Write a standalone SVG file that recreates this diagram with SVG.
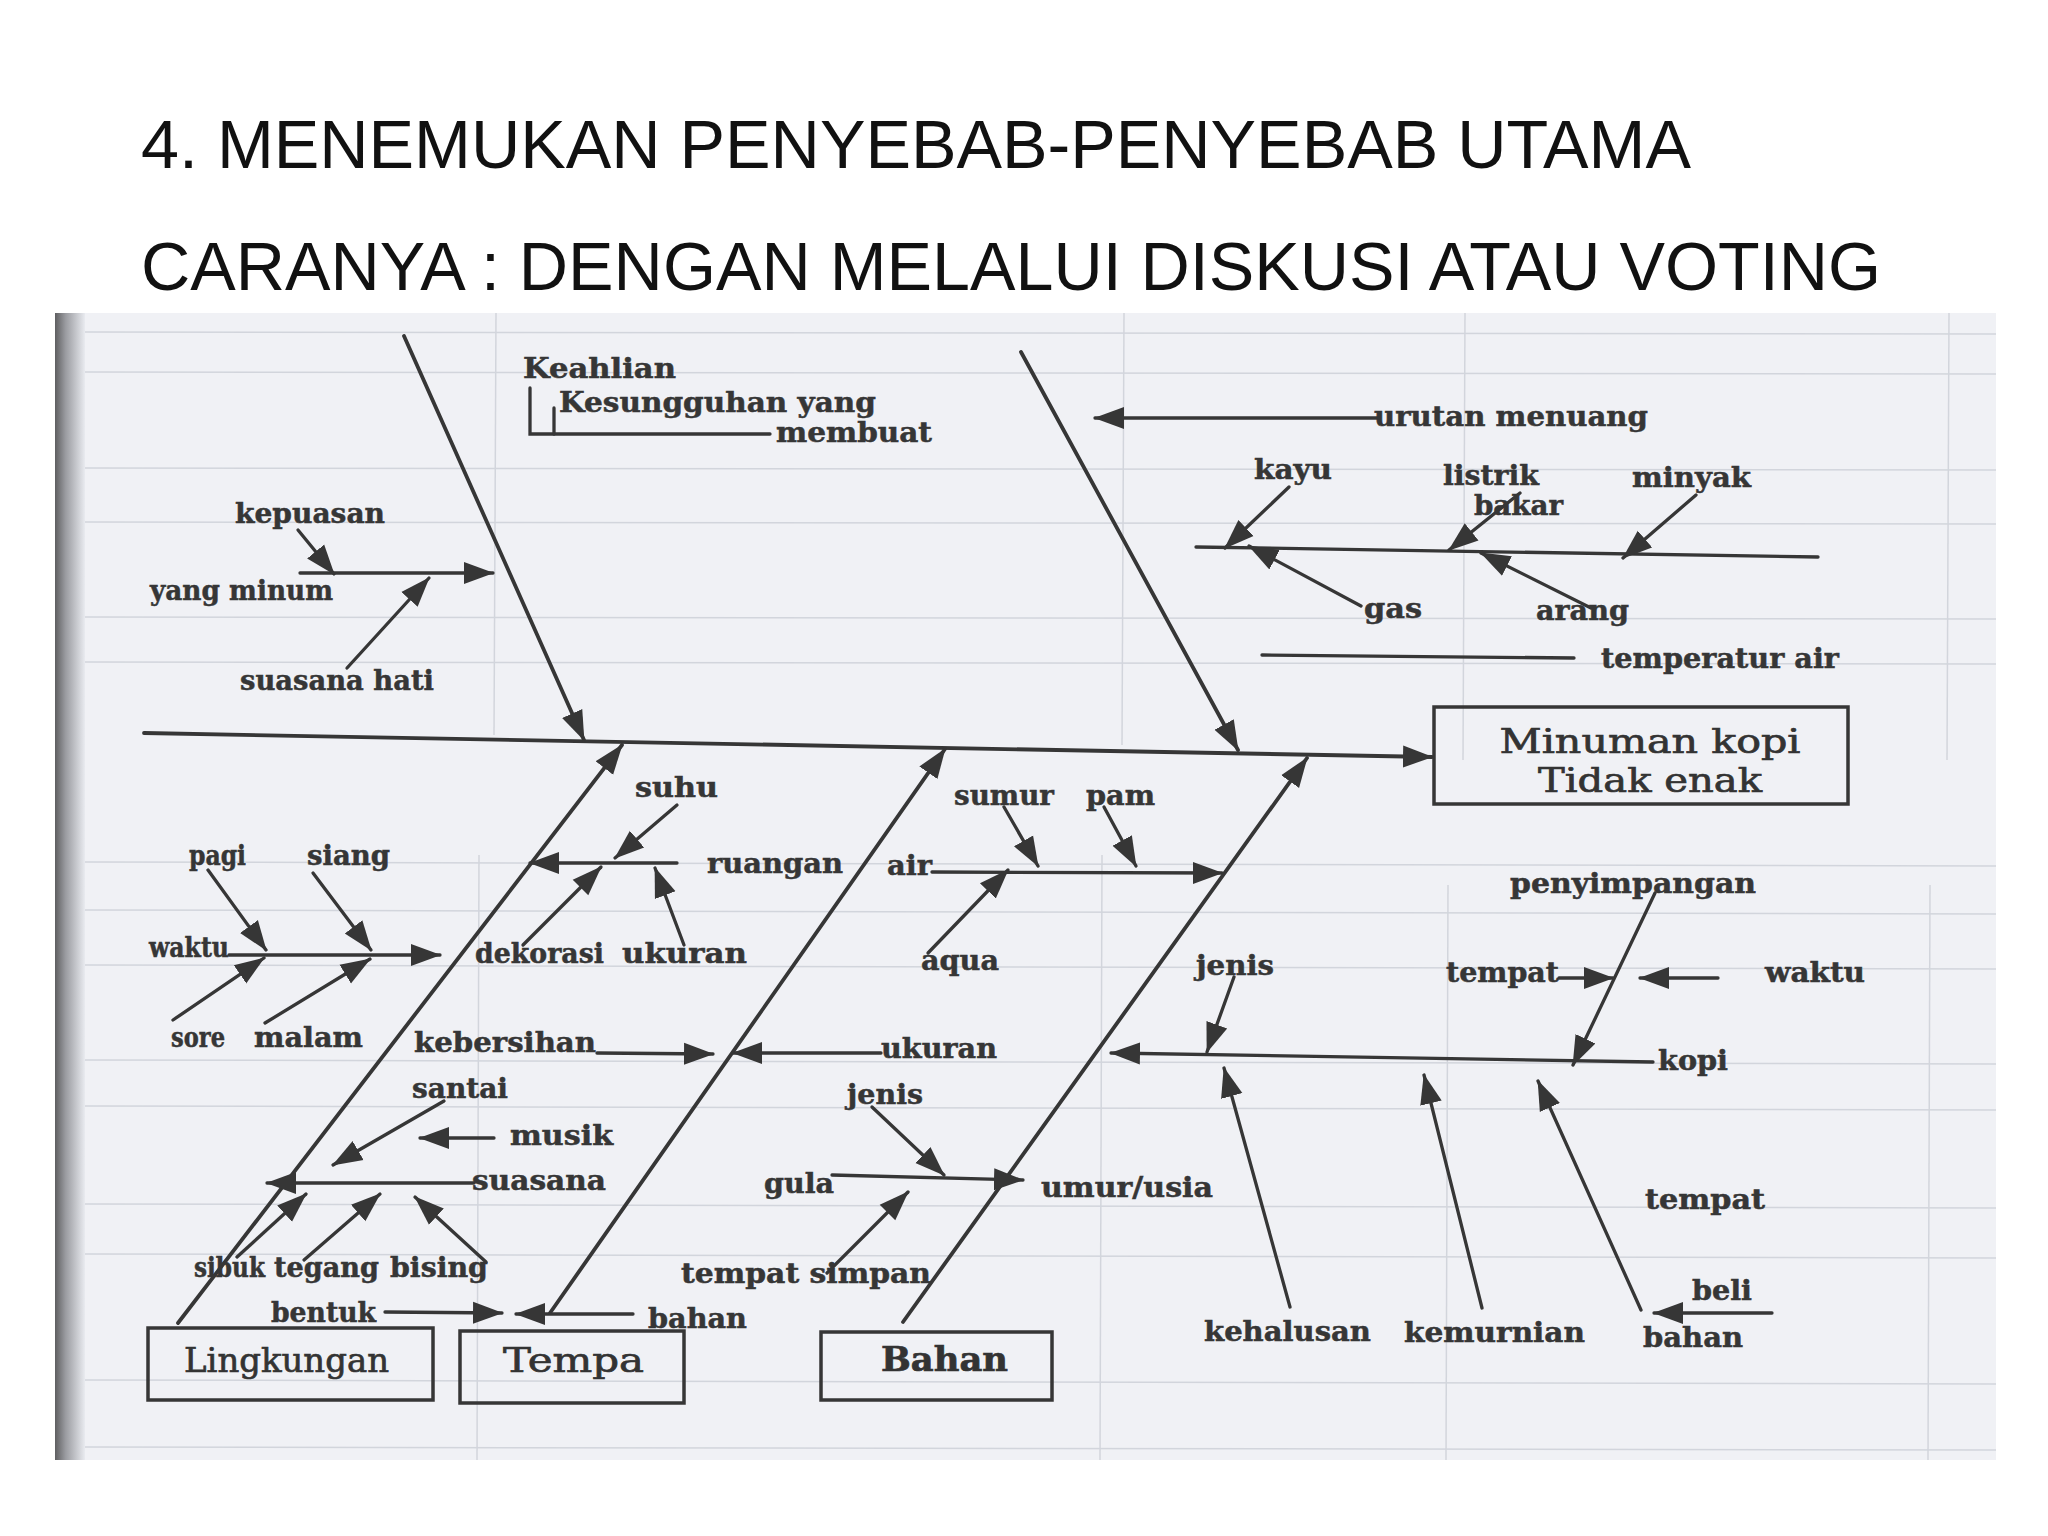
<svg xmlns="http://www.w3.org/2000/svg" width="2048" height="1536" viewBox="0 0 2048 1536">
  <defs>
    <marker id="ah" markerUnits="userSpaceOnUse" markerWidth="30" markerHeight="24" refX="29" refY="12" orient="auto">
      <path d="M0,1 L30,12 L0,23 Z" fill="#363636"/>
    </marker>
    <linearGradient id="edge" x1="0" y1="0" x2="1" y2="0">
      <stop offset="0" stop-color="#5e5e60"/>
      <stop offset="0.35" stop-color="#9a9ba0"/>
      <stop offset="1" stop-color="#e9ebf0"/>
    </linearGradient>
    <style>
      .title{font-family:"Liberation Sans",Arial,sans-serif;font-size:68px;fill:#111}
      .lbl{font-family:"DejaVu Serif","Liberation Serif",serif;font-weight:bold;font-size:27px;fill:#363636;stroke:#363636;stroke-width:0.5}
      .bt{font-family:"DejaVu Serif","Liberation Serif",serif;font-size:33px;fill:#333;stroke:#333;stroke-width:0.7}
      .box{fill:none;stroke:#363636;stroke-width:3.5}
      .ln{stroke:#363636;stroke-width:3.3;fill:none;stroke-linecap:round}
      .bone{stroke:#363636;stroke-width:3.8;fill:none;stroke-linecap:round}
      .ar{marker-end:url(#ah)}
      .grid{stroke:#d2d5dc;stroke-width:1.5;fill:none}
    </style>
  </defs>

  <rect x="0" y="0" width="2048" height="1536" fill="#ffffff"/>

  <g id="titles">
    <text class="title" x="141" y="168" textLength="1550" lengthAdjust="spacingAndGlyphs">4. MENEMUKAN PENYEBAB-PENYEBAB UTAMA</text>
    <text class="title" x="141" y="290" textLength="1740" lengthAdjust="spacingAndGlyphs">CARANYA : DENGAN MELALUI DISKUSI ATAU VOTING</text>
  </g>

  <g id="scan-background">
    <rect x="55" y="313" width="1941" height="1147" fill="#f0f1f5"/>
    <rect x="55" y="313" width="30" height="1147" fill="url(#edge)"/>
    <g class="grid">
      <line x1="85" y1="332" x2="1996" y2="334"/>
      <line x1="85" y1="372" x2="1996" y2="374"/>
      <line x1="85" y1="468" x2="1996" y2="470"/>
      <line x1="85" y1="522" x2="1996" y2="524"/>
      <line x1="85" y1="617" x2="1996" y2="619"/>
      <line x1="85" y1="662" x2="1996" y2="664"/>
      <line x1="85" y1="862" x2="1996" y2="866"/>
      <line x1="85" y1="910" x2="1996" y2="914"/>
      <line x1="85" y1="965" x2="1996" y2="969"/>
      <line x1="85" y1="1060" x2="1996" y2="1064"/>
      <line x1="85" y1="1106" x2="1996" y2="1110"/>
      <line x1="85" y1="1204" x2="1996" y2="1208"/>
      <line x1="85" y1="1254" x2="1996" y2="1258"/>
      <line x1="85" y1="1380" x2="1996" y2="1384"/>
      <line x1="85" y1="1447" x2="1996" y2="1450"/>
      <line x1="496" y1="313" x2="494" y2="735"/>
      <line x1="1124" y1="313" x2="1122" y2="745"/>
      <line x1="1465" y1="313" x2="1463" y2="760"/>
      <line x1="1949" y1="313" x2="1947" y2="760"/>
      <line x1="479" y1="855" x2="477" y2="1460"/>
      <line x1="1102" y1="855" x2="1100" y2="1460"/>
      <line x1="1448" y1="885" x2="1446" y2="1460"/>
      <line x1="1930" y1="885" x2="1928" y2="1460"/>
    </g>
  </g>

  <g id="connectors">
    <!-- main spine and bones -->
    <line class="bone ar" x1="144" y1="733" x2="1432" y2="757"/>
    <line class="bone ar" x1="404" y1="336" x2="584" y2="740"/>
    <line class="bone ar" x1="1021" y1="352" x2="1238" y2="750"/>
    <line class="bone ar" x1="178" y1="1323" x2="622" y2="745"/>
    <line class="bone ar" x1="550" y1="1313" x2="945" y2="749"/>
    <line class="bone ar" x1="903" y1="1322" x2="1307" y2="758"/>

    <!-- Keahlian bracket -->
    <polyline class="ln" points="530,388 530,434 770,434"/>
    <line class="ln" x1="554" y1="408" x2="554" y2="434"/>

    <!-- top-left sub-branches -->
    <line class="ln ar" x1="298" y1="530" x2="334" y2="574"/>
    <line class="ln ar" x1="300" y1="573" x2="493" y2="573"/>
    <line class="ln ar" x1="347" y1="668" x2="429" y2="578"/>

    <!-- top-right sub-branches -->
    <line class="ln ar" x1="1378" y1="418" x2="1095" y2="418"/>
    <line class="ln" x1="1196" y1="547" x2="1818" y2="557"/>
    <line class="ln ar" x1="1289" y1="487" x2="1225" y2="548"/>
    <line class="ln ar" x1="1361" y1="606" x2="1249" y2="546"/>
    <line class="ln ar" x1="1520" y1="493" x2="1449" y2="550"/>
    <line class="ln ar" x1="1696" y1="495" x2="1623" y2="558"/>
    <line class="ln ar" x1="1591" y1="608" x2="1481" y2="553"/>
    <line class="ln" x1="1262" y1="655" x2="1574" y2="658"/>

    <!-- Lingkungan bone sub-branches -->
    <line class="ln ar" x1="677" y1="805" x2="615" y2="858"/>
    <line class="ln ar" x1="677" y1="863" x2="530" y2="863"/>
    <line class="ln ar" x1="523" y1="945" x2="601" y2="867"/>
    <line class="ln ar" x1="684" y1="945" x2="655" y2="868"/>
    <line class="ln ar" x1="229" y1="955" x2="440" y2="955"/>
    <line class="ln ar" x1="208" y1="870" x2="266" y2="950"/>
    <line class="ln ar" x1="313" y1="873" x2="371" y2="950"/>
    <line class="ln ar" x1="173" y1="1020" x2="264" y2="958"/>
    <line class="ln ar" x1="265" y1="1023" x2="370" y2="959"/>
    <line class="ln ar" x1="597" y1="1053" x2="713" y2="1054"/>
    <line class="ln ar" x1="881" y1="1053" x2="733" y2="1053"/>
    <line class="ln ar" x1="444" y1="1101" x2="333" y2="1165"/>
    <line class="ln ar" x1="494" y1="1138" x2="420" y2="1138"/>
    <line class="ln ar" x1="474" y1="1183" x2="267" y2="1183"/>
    <line class="ln ar" x1="237" y1="1257" x2="306" y2="1194"/>
    <line class="ln ar" x1="304" y1="1260" x2="380" y2="1194"/>
    <line class="ln ar" x1="486" y1="1262" x2="415" y2="1197"/>
    <line class="ln ar" x1="385" y1="1312" x2="502" y2="1313"/>
    <line class="ln ar" x1="633" y1="1314" x2="516" y2="1314"/>

    <!-- Bahan bone sub-branches -->
    <line class="ln ar" x1="932" y1="872" x2="1222" y2="873"/>
    <line class="ln ar" x1="1004" y1="807" x2="1038" y2="866"/>
    <line class="ln ar" x1="1104" y1="807" x2="1136" y2="866"/>
    <line class="ln ar" x1="928" y1="953" x2="1008" y2="870"/>
    <line class="ln ar" x1="872" y1="1107" x2="944" y2="1175"/>
    <line class="ln ar" x1="832" y1="1175" x2="1023" y2="1180"/>
    <line class="ln ar" x1="827" y1="1273" x2="908" y2="1192"/>

    <!-- kopi branch -->
    <line class="ln ar" x1="1653" y1="1062" x2="1111" y2="1053"/>
    <line class="ln ar" x1="1234" y1="977" x2="1207" y2="1052"/>
    <line class="ln ar" x1="1655" y1="893" x2="1573" y2="1065"/>
    <line class="ln ar" x1="1559" y1="978" x2="1613" y2="978"/>
    <line class="ln ar" x1="1718" y1="978" x2="1640" y2="978"/>
    <line class="ln ar" x1="1290" y1="1307" x2="1224" y2="1068"/>
    <line class="ln ar" x1="1482" y1="1308" x2="1424" y2="1075"/>
    <line class="ln ar" x1="1641" y1="1310" x2="1538" y2="1081"/>
    <line class="ln ar" x1="1772" y1="1313" x2="1654" y2="1313"/>
  </g>

  <g id="effect">
    <rect class="box" x="1434" y="707" width="414" height="97"/>
    <text class="bt" x="1650" y="753" text-anchor="middle" font-size="35" textLength="301" lengthAdjust="spacingAndGlyphs">Minuman kopi</text>
    <text class="bt" x="1650" y="792" text-anchor="middle" font-size="35" textLength="224" lengthAdjust="spacingAndGlyphs">Tidak enak</text>
  </g>
  <g id="cat-lingkungan">
    <rect class="box" x="148" y="1328" width="285" height="72"/>
    <text class="bt" x="184" y="1372" textLength="205" lengthAdjust="spacingAndGlyphs">Lingkungan</text>
  </g>
  <g id="cat-tempa">
    <rect class="box" x="460" y="1331" width="224" height="72"/>
    <text class="bt" x="503" y="1372" textLength="141" lengthAdjust="spacingAndGlyphs">Tempa</text>
  </g>
  <g id="cat-bahan">
    <rect class="box" x="821" y="1332" width="231" height="68"/>
    <text class="bt" x="881" y="1371" font-weight="bold" textLength="127" lengthAdjust="spacingAndGlyphs">Bahan</text>
  </g>

  <g id="labels-top-left">
    <g id="l-keahlian"><text class="lbl" x="523" y="378" textLength="153" lengthAdjust="spacingAndGlyphs">Keahlian</text></g>
    <g id="l-kesungguhan"><text class="lbl" x="559" y="412" textLength="317" lengthAdjust="spacingAndGlyphs">Kesungguhan yang</text></g>
    <g id="l-membuat"><text class="lbl" x="776" y="442" textLength="156" lengthAdjust="spacingAndGlyphs">membuat</text></g>
    <g id="l-kepuasan"><text class="lbl" x="235" y="523" textLength="150" lengthAdjust="spacingAndGlyphs">kepuasan</text></g>
    <g id="l-yangminum"><text class="lbl" x="150" y="600" textLength="183" lengthAdjust="spacingAndGlyphs">yang minum</text></g>
    <g id="l-suasanahati"><text class="lbl" x="240" y="690" textLength="194" lengthAdjust="spacingAndGlyphs">suasana hati</text></g>
  </g>

  <g id="labels-top-right">
    <g id="l-urutan"><text class="lbl" x="1374" y="426" textLength="274" lengthAdjust="spacingAndGlyphs">urutan menuang</text></g>
    <g id="l-kayu"><text class="lbl" x="1254" y="479" textLength="78" lengthAdjust="spacingAndGlyphs">kayu</text></g>
    <g id="l-listrik"><text class="lbl" x="1443" y="485" textLength="96" lengthAdjust="spacingAndGlyphs">listrik</text></g>
    <g id="l-bakar"><text class="lbl" x="1474" y="515" textLength="89" lengthAdjust="spacingAndGlyphs">bakar</text></g>
    <g id="l-minyak"><text class="lbl" x="1632" y="487" textLength="119" lengthAdjust="spacingAndGlyphs">minyak</text></g>
    <g id="l-gas"><text class="lbl" x="1364" y="618" textLength="58" lengthAdjust="spacingAndGlyphs">gas</text></g>
    <g id="l-arang"><text class="lbl" x="1536" y="620" textLength="93" lengthAdjust="spacingAndGlyphs">arang</text></g>
    <g id="l-temperatur"><text class="lbl" x="1601" y="668" textLength="238" lengthAdjust="spacingAndGlyphs">temperatur air</text></g>
  </g>

  <g id="labels-bottom-left">
    <g id="l-suhu"><text class="lbl" x="635" y="797" textLength="83" lengthAdjust="spacingAndGlyphs">suhu</text></g>
    <g id="l-ruangan"><text class="lbl" x="707" y="873" textLength="136" lengthAdjust="spacingAndGlyphs">ruangan</text></g>
    <g id="l-dekorasi"><text class="lbl" x="475" y="963" textLength="129" lengthAdjust="spacingAndGlyphs">dekorasi</text></g>
    <g id="l-ukuran1"><text class="lbl" x="622" y="963" textLength="125" lengthAdjust="spacingAndGlyphs">ukuran</text></g>
    <g id="l-pagi"><text class="lbl" x="189" y="865" textLength="57" lengthAdjust="spacingAndGlyphs">pagi</text></g>
    <g id="l-siang"><text class="lbl" x="307" y="865" textLength="83" lengthAdjust="spacingAndGlyphs">siang</text></g>
    <g id="l-waktu1"><text class="lbl" x="149" y="957" textLength="80" lengthAdjust="spacingAndGlyphs">waktu</text></g>
    <g id="l-sore"><text class="lbl" x="171" y="1047" textLength="54" lengthAdjust="spacingAndGlyphs">sore</text></g>
    <g id="l-malam"><text class="lbl" x="254" y="1047" textLength="109" lengthAdjust="spacingAndGlyphs">malam</text></g>
    <g id="l-kebersihan"><text class="lbl" x="414" y="1052" textLength="182" lengthAdjust="spacingAndGlyphs">kebersihan</text></g>
    <g id="l-santai"><text class="lbl" x="412" y="1098" textLength="96" lengthAdjust="spacingAndGlyphs">santai</text></g>
    <g id="l-musik"><text class="lbl" x="510" y="1145" textLength="103" lengthAdjust="spacingAndGlyphs">musik</text></g>
    <g id="l-suasana"><text class="lbl" x="472" y="1190" textLength="134" lengthAdjust="spacingAndGlyphs">suasana</text></g>
    <g id="l-sibuk"><text class="lbl" x="194" y="1277" textLength="71" lengthAdjust="spacingAndGlyphs">sibuk</text></g>
    <g id="l-tegang"><text class="lbl" x="274" y="1277" textLength="105" lengthAdjust="spacingAndGlyphs">tegang</text></g>
    <g id="l-bising"><text class="lbl" x="390" y="1277" textLength="98" lengthAdjust="spacingAndGlyphs">bising</text></g>
    <g id="l-bentuk"><text class="lbl" x="271" y="1322" textLength="105" lengthAdjust="spacingAndGlyphs">bentuk</text></g>
    <g id="l-bahan1"><text class="lbl" x="648" y="1328" textLength="99" lengthAdjust="spacingAndGlyphs">bahan</text></g>
  </g>

  <g id="labels-bottom-mid">
    <g id="l-air"><text class="lbl" x="887" y="875" textLength="45" lengthAdjust="spacingAndGlyphs">air</text></g>
    <g id="l-sumur"><text class="lbl" x="954" y="805" textLength="100" lengthAdjust="spacingAndGlyphs">sumur</text></g>
    <g id="l-pam"><text class="lbl" x="1086" y="805" textLength="69" lengthAdjust="spacingAndGlyphs">pam</text></g>
    <g id="l-aqua"><text class="lbl" x="921" y="970" textLength="78" lengthAdjust="spacingAndGlyphs">aqua</text></g>
    <g id="l-ukuran2"><text class="lbl" x="881" y="1058" textLength="116" lengthAdjust="spacingAndGlyphs">ukuran</text></g>
    <g id="l-jenis1"><text class="lbl" x="847" y="1104" textLength="76" lengthAdjust="spacingAndGlyphs">jenis</text></g>
    <g id="l-gula"><text class="lbl" x="764" y="1193" textLength="70" lengthAdjust="spacingAndGlyphs">gula</text></g>
    <g id="l-umur"><text class="lbl" x="1041" y="1197" textLength="172" lengthAdjust="spacingAndGlyphs">umur/usia</text></g>
    <g id="l-tempatsimpan"><text class="lbl" x="681" y="1283" textLength="250" lengthAdjust="spacingAndGlyphs">tempat simpan</text></g>
  </g>

  <g id="labels-bottom-right">
    <g id="l-jenis2"><text class="lbl" x="1196" y="975" textLength="78" lengthAdjust="spacingAndGlyphs">jenis</text></g>
    <g id="l-penyimpangan"><text class="lbl" x="1510" y="893" textLength="246" lengthAdjust="spacingAndGlyphs">penyimpangan</text></g>
    <g id="l-tempat1"><text class="lbl" x="1446" y="982" textLength="113" lengthAdjust="spacingAndGlyphs">tempat</text></g>
    <g id="l-waktu2"><text class="lbl" x="1765" y="982" textLength="100" lengthAdjust="spacingAndGlyphs">waktu</text></g>
    <g id="l-kopi"><text class="lbl" x="1658" y="1070" textLength="70" lengthAdjust="spacingAndGlyphs">kopi</text></g>
    <g id="l-tempat2"><text class="lbl" x="1645" y="1209" textLength="120" lengthAdjust="spacingAndGlyphs">tempat</text></g>
    <g id="l-beli"><text class="lbl" x="1692" y="1300" textLength="60" lengthAdjust="spacingAndGlyphs">beli</text></g>
    <g id="l-kehalusan"><text class="lbl" x="1204" y="1341" textLength="167" lengthAdjust="spacingAndGlyphs">kehalusan</text></g>
    <g id="l-kemurnian"><text class="lbl" x="1404" y="1342" textLength="181" lengthAdjust="spacingAndGlyphs">kemurnian</text></g>
    <g id="l-bahan2"><text class="lbl" x="1643" y="1347" textLength="100" lengthAdjust="spacingAndGlyphs">bahan</text></g>
  </g>
</svg>
